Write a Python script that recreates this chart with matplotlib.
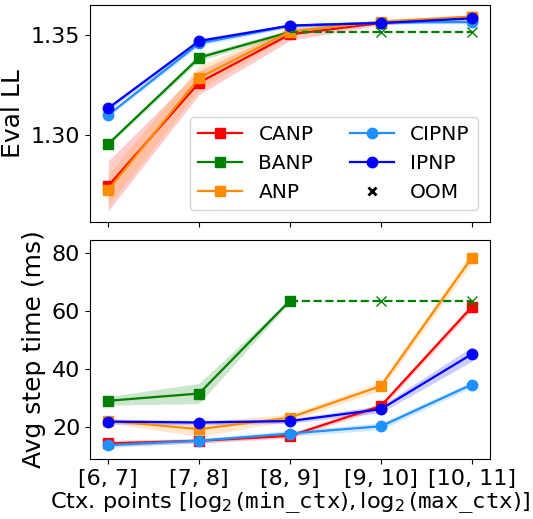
import matplotlib
matplotlib.use("Agg")
import matplotlib.pyplot as plt
from matplotlib.lines import Line2D
import numpy as np

x_labels = ["[6, 7]", "[7, 8]", "[8, 9]", "[9, 10]", "[10, 11]"]
models = ["CANP", "BANP", "ANP", "CIPNP", "IPNP"]
colors = {"CANP": "red", "BANP": "green", "ANP": "darkorange",
          "CIPNP": "dodgerblue", "IPNP": "blue"}
markers = {"CANP": "s", "BANP": "s", "ANP": "s", "CIPNP": "o", "IPNP": "o"}

# eval log-likelihood (mean, std); BANP runs out of memory after [8, 9]
ll_mean = {
    "CANP": [1.2745, 1.3262, 1.3503, 1.3560, 1.3590],
    "BANP": [1.2955, 1.3387, 1.3515],
    "ANP": [1.2725, 1.3286, 1.3517, 1.3567, 1.3592],
    "CIPNP": [1.3100, 1.3458, 1.3547, 1.3562, 1.3565],
    "IPNP": [1.3134, 1.3470, 1.3547, 1.3560, 1.3583],
}
ll_std = {
    "CANP": [0.0125, 0.0060, 0.0030, 0.0010, 0.0010],
    "BANP": [0.0010, 0.0015, 0.0010],
    "ANP": [0.0080, 0.0060, 0.0020, 0.0010, 0.0010],
    "CIPNP": [0.0010, 0.0012, 0.0008, 0.0008, 0.0008],
    "IPNP": [0.0012, 0.0012, 0.0008, 0.0008, 0.0008],
}

# average step time in ms (mean, std)
time_mean = {
    "CANP": [14.4, 15.3, 17.0, 27.3, 61.5],
    "BANP": [29.1, 31.6, 63.7],
    "ANP": [22.2, 19.3, 23.3, 34.2, 78.5],
    "CIPNP": [13.8, 15.3, 17.8, 20.3, 34.7],
    "IPNP": [21.9, 21.6, 22.1, 26.2, 45.2],
}
time_std = {
    "CANP": [1.0, 0.8, 0.8, 1.0, 1.2],
    "BANP": [1.5, 3.5, 0.6],
    "ANP": [0.8, 2.5, 1.2, 1.5, 2.0],
    "CIPNP": [0.8, 0.8, 1.0, 1.2, 1.0],
    "IPNP": [0.8, 0.8, 0.8, 1.2, 2.5],
}

ll_oom = 1.3513
time_oom = 63.7

fig = plt.figure(figsize=(5.33, 5.19), dpi=100)
ax_ll = fig.add_axes([90 / 533, 1 - 222 / 519, 400 / 533, 217 / 519])
ax_t = fig.add_axes([90 / 533, 1 - 459 / 519, 400 / 533, 219 / 519], sharex=ax_ll)

xs = np.arange(len(x_labels))


def draw(ax, means, stds, oom_val):
    for m in models:
        mu = np.array(means[m])
        sd = np.array(stds[m])
        n = len(mu)
        ax.fill_between(xs[:n], mu - sd, mu + sd, color=colors[m], alpha=0.2,
                        linewidth=0)
        ax.plot(xs[:n], mu, color=colors[m], marker=markers[m], markersize=7.5,
                linewidth=1.6, label=m)
    # BANP out of memory
    n = len(means["BANP"])
    ax.plot(xs[n - 1:], [oom_val] * (len(xs) - n + 1), color="green",
            linestyle="--", linewidth=1.6)
    ax.plot(xs[n:], [oom_val] * (len(xs) - n), color="green", marker="x",
            linestyle="none", markersize=7)


draw(ax_ll, ll_mean, ll_std, ll_oom)
draw(ax_t, time_mean, time_std, time_oom)

ax_ll.set_xlim(-0.2, 4.2)
ax_ll.set_ylim(1.2565, 1.365)
ax_ll.set_yticks([1.30, 1.35])
ax_ll.set_yticklabels(["1.30", "1.35"])
ax_ll.tick_params(labelbottom=False, labelsize=16)
ax_ll.set_ylabel("Eval LL", fontsize=18)

ax_t.set_ylim(9.0, 84.6)
ax_t.set_yticks([20, 40, 60, 80])
ax_t.set_xticks(xs)
ax_t.set_xticklabels(x_labels)
ax_t.tick_params(labelsize=16)
ax_t.set_ylabel("Avg step time (ms)", fontsize=18)
ax_t.set_xlabel(r"Ctx. points [$\log_2(\mathtt{min\_ctx}), \log_2(\mathtt{max\_ctx})$]",
                fontsize=16.2, labelpad=1)

handles, labels = ax_ll.get_legend_handles_labels()
handles.append(Line2D([], [], color="black", marker="x", linestyle="none",
                      markersize=6, markeredgewidth=2))
labels.append("OOM")
ax_ll.legend(handles, labels, ncol=2, fontsize=14.5, loc="lower right",
             handlelength=2.2, columnspacing=1.8, borderaxespad=0.6)

fig.savefig("out.png", dpi=100)
